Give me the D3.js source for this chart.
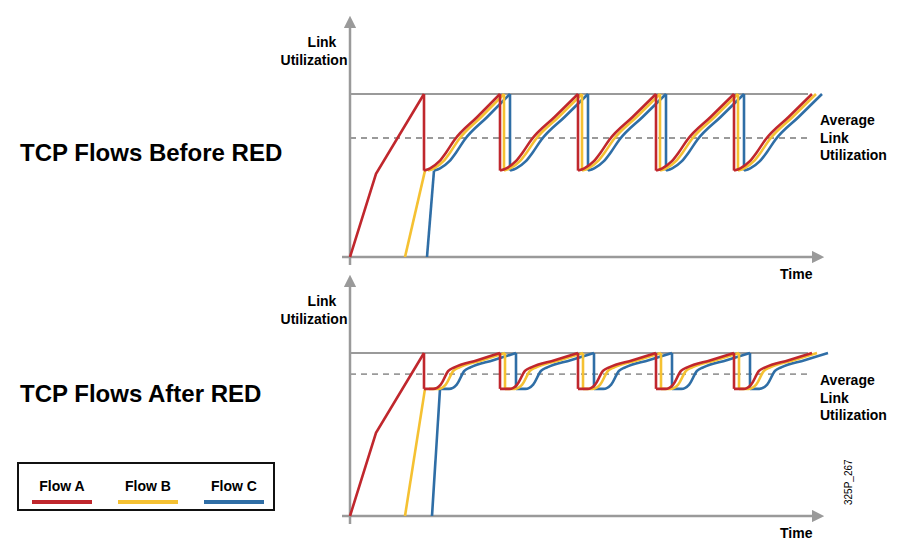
<!DOCTYPE html><html><head><meta charset="utf-8"><script src="https://cdn.jsdelivr.net/npm/d3@7"></script>
<style>body{margin:0;background:#fff}text{font-family:Arial,"Liberation Sans",sans-serif}</style></head><body><svg id="c" width="907" height="555"></svg>
<script>
// Data (time units, utilization %)
const flows = ["Flow A","Flow B","Flow C"];
const colors = ["#c0272d","#f5c132","#2f6ea6"];
const peakTimes = [74,150,228,306,384,462];
const panels = [
 {title:"TCP Flows Before RED", trough:53, avg:73, offsets:[0,4,10],
  shape:[[0,0],[0.08,0.03],[0.2,0.12],[0.3,0.25],[0.4,0.4],[0.7,0.7],[1,1]],
  starts:[[[0,0],[26,51],[74,100]],[[55,0],[75,53]],[[77,0],[84,53]]]},
 {title:"TCP Flows After RED", trough:78, avg:87, offsets:[0,5,16],
  shape:[[0,0],[0.12,0],[0.22,0.12],[0.32,0.5],[0.4,0.6],[0.7,0.8],[1,1]],
  starts:[[[0,0],[26,51],[74,100]],[[55,0],[75,78]],[[82,0],[90,78]]]}
];
const tops=[94,353], bases=[257,516], avgLabelY=[120,380];
const svg=d3.select("#c");
const x=d3.scaleLinear().domain([0,472]).range([350,822]);
const gray="#9a9a9a";
svg.append("defs").append("marker").attr("id","ar").attr("viewBox","0 0 10 10").attr("refX",5).attr("refY",5)
 .attr("markerWidth",5).attr("markerHeight",5).attr("orient","auto-start-reverse")
 .append("path").attr("d","M0,0L10,5L0,10z").attr("fill",gray);
panels.forEach((p,pi)=>{
 const y=d3.scaleLinear().domain([0,100]).range([bases[pi],tops[pi]]);
 const g=svg.append("g");
 g.append("line").attr("x1",350).attr("x2",350).attr("y1",bases[pi]+8).attr("y2",tops[pi]-72).attr("stroke",gray).attr("stroke-width",2.5).attr("marker-end","url(#ar)");
 g.append("line").attr("x1",342).attr("x2",818).attr("y1",bases[pi]).attr("y2",bases[pi]).attr("stroke",gray).attr("stroke-width",2.5).attr("marker-end","url(#ar)");
 g.append("line").attr("x1",350).attr("x2",x(458)).attr("y1",y(100)).attr("y2",y(100)).attr("stroke",gray).attr("stroke-width",2);
 g.append("line").attr("x1",350).attr("x2",x(458)).attr("y1",y(p.avg)).attr("y2",y(p.avg)).attr("stroke",gray).attr("stroke-width",1.8).attr("stroke-dasharray","6,5");
 const curve=d3.line().x(d=>x(d[0])).y(d=>y(d[1])).curve(d3.curveMonotoneX);
 const straight=d3.line().x(d=>x(d[0])).y(d=>y(d[1]));
 [2,1,0].forEach(fi=>{
  const off=p.offsets[fi];
  g.append("path").attr("d",straight(p.starts[fi])).attr("fill","none").attr("stroke",colors[fi]).attr("stroke-width",2.6);
  for(let i=0;i<peakTimes.length-1;i++){
   const t0=peakTimes[i]+off, t1=peakTimes[i+1]+off;
   if(i>0||fi===0) g.append("path").attr("d",straight([[t0,100],[t0,p.trough]])).attr("stroke",colors[fi]).attr("stroke-width",2.6);
   g.append("path").attr("d",curve(p.shape.map(s=>[t0+(t1-t0)*s[0], p.trough+(100-p.trough)*s[1]])))
    .attr("fill","none").attr("stroke",colors[fi]).attr("stroke-width",2.6);
  }
 });
 const tb=tops[pi];
 g.append("text").attr("x",20).attr("y",[161,402][pi]).attr("font-size",24).attr("font-weight","bold").text(p.title);
 g.append("text").attr("x",322).attr("y",tb-47).attr("text-anchor","middle").attr("font-size",14).attr("font-weight","bold").text("Link");
 g.append("text").attr("x",314).attr("y",tb-29).attr("text-anchor","middle").attr("font-size",14).attr("font-weight","bold").text("Utilization");
 ["Average","Link","Utilization"].forEach((t,i)=>g.append("text").attr("x",820).attr("y",avgLabelY[pi]+5+i*17.5).attr("font-size",14).attr("font-weight","bold").text(t));
 g.append("text").attr("x",780).attr("y",bases[pi]+22).attr("font-size",14).attr("font-weight","bold").text("Time");
});
const lg=svg.append("g");
lg.append("rect").attr("x",18).attr("y",463).attr("width",256).attr("height",47).attr("fill","none").attr("stroke","#111").attr("stroke-width",2);
flows.forEach((f,i)=>{
 const cx=62+i*86;
 lg.append("text").attr("x",cx).attr("y",491).attr("text-anchor","middle").attr("font-size",14).attr("font-weight","bold").text(f);
 lg.append("line").attr("x1",cx-30).attr("x2",cx+30).attr("y1",502).attr("y2",502).attr("stroke",colors[i]).attr("stroke-width",4);
});
svg.append("text").attr("transform","translate(852,505) rotate(-90)").attr("font-size",10).text("325P_267");
</script></body></html>
